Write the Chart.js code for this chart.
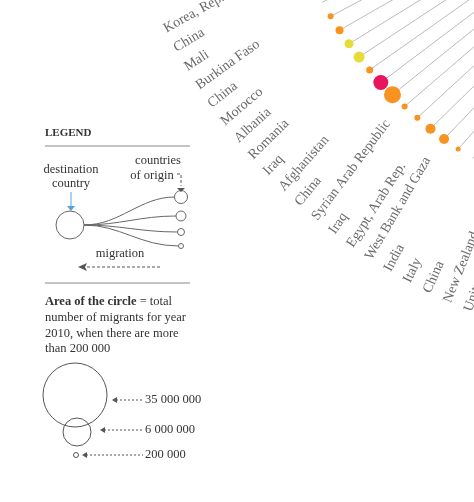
<!DOCTYPE html>
<html><head><meta charset="utf-8">
<script src="https://cdn.jsdelivr.net/npm/chart.js@4"></script>
<style>html,body{margin:0;padding:0;background:#fff}#c{display:block}</style>
</head><body><div style="width:474px;height:502px"><canvas id="c"></canvas></div>
<script>
const countries=["Korea, Rep.","China","Mali","Burkina Faso","China","Morocco","Albania","Romania","Iraq","Afghanistan","China","Syrian Arab Republic","Iraq","Egypt, Arab Rep.","West Bank and Gaza","India","Italy","China","New Zealand","United Kingdom"];
const dotSizes=[4,3,4,5,3,4,4.5,5.5,3.5,7.5,8.5,3,3,5,5,2.5,3,3,3,3];
const dotColors=["#e8145c","#f7931e","#f7931e","#e8145c","#f7931e","#f7931e","#e5dc3a","#e5dc3a","#f7931e","#e8145c","#f7931e","#f7931e","#f7931e","#f7931e","#f7931e","#f7931e","#f7931e","#f7931e","#f7931e","#f7931e"];
const legendSizes=["35 000 000","6 000 000","200 000"];

const C={x:684,y:-270};
const ang=i=>(150.8-2.17*i)*Math.PI/180;
const dang=i=>(150.2-2.17*i)*Math.PI/180;
const dotR=i=>439+2*i;
const labR=i=>598+1.1*i;
const pts=countries.map((c,i)=>({x:C.x+dotR(i)*Math.cos(dang(i)),y:C.y+dotR(i)*Math.sin(dang(i)),r:dotSizes[i]}));

const serif='"Liberation Serif","DejaVu Serif",serif';
const deco={id:'deco',
beforeDatasetsDraw(ch){const g=ch.ctx,xs=ch.scales.x,ys=ch.scales.y;g.save();
 g.strokeStyle='#aaa';g.lineWidth=0.8;
 pts.forEach(p=>{g.beginPath();g.moveTo(xs.getPixelForValue(p.x),ys.getPixelForValue(p.y));g.lineTo(xs.getPixelForValue(820),ys.getPixelForValue(-250));g.stroke();});
 g.restore();},
afterDatasetsDraw(ch){const g=ch.ctx,xs=ch.scales.x,ys=ch.scales.y;g.save();
 g.fillStyle='#6a6a6a';g.font='14px '+serif;g.textBaseline='middle';g.textAlign='left';
 countries.forEach((c,i)=>{const a=ang(i),R=labR(i);const px=xs.getPixelForValue(C.x+R*Math.cos(a)),py=ys.getPixelForValue(C.y+R*Math.sin(a));
  g.save();g.translate(px,py);g.rotate(a+Math.PI);g.fillText(c,0,0);g.restore();});
 // legend
 g.fillStyle='#333';g.font='bold 11px '+serif;g.fillText('LEGEND',45,133);
 g.strokeStyle='#888';g.lineWidth=1;
 [[45,146,190],[45,283,190]].forEach(l=>{g.beginPath();g.moveTo(l[0],l[1]);g.lineTo(l[2],l[1]);g.stroke();});
 g.fillStyle='#333';g.font='12.5px '+serif;g.textAlign='center';
 g.fillText('destination',71,170);g.fillText('country',71,184);
 g.fillText('countries',158,161);g.fillText('of origin',152,176);
 g.strokeStyle='#666';g.lineWidth=1;
 const og=[[181,197,6.5],[181,216,5],[181,232,3.5],[181,246,2.5]];
 og.forEach(o=>{g.beginPath();g.moveTo(84,225);g.bezierCurveTo(120,225,140,o[1],o[0]-o[2],o[1]);g.stroke();});
 g.beginPath();g.arc(70,225,14,0,7);g.fillStyle='#fff';g.fill();g.stroke();
 og.forEach(o=>{g.beginPath();g.arc(o[0],o[1],o[2],0,7);g.fillStyle='#fff';g.fill();g.stroke();});
 g.strokeStyle='#5aa0d8';g.beginPath();g.moveTo(71,192);g.lineTo(71,208);g.stroke();
 g.fillStyle='#5aa0d8';g.beginPath();g.moveTo(67,206);g.lineTo(75,206);g.lineTo(71,211);g.fill();
 g.strokeStyle='#555';g.setLineDash([3,2]);
 g.beginPath();g.moveTo(177,174);g.lineTo(181,174);g.lineTo(181,186);g.stroke();
 g.beginPath();g.moveTo(160,267);g.lineTo(84,267);g.stroke();
 g.setLineDash([]);g.fillStyle='#555';
 g.beginPath();g.moveTo(177,188);g.lineTo(185,188);g.lineTo(181,192);g.fill();
 g.beginPath();g.moveTo(78,267);g.lineTo(87,263);g.lineTo(85,267);g.lineTo(87,271);g.fill();
 g.fillStyle='#333';g.fillText('migration',120,254);
 g.textAlign='left';g.font='bold 12.5px '+serif;g.fillText('Area of the circle',45,302);
 const w=g.measureText('Area of the circle').width;g.font='12.5px '+serif;
 g.fillText(' = total',45+w,302);
 ['number of migrants for year','2010, when there are more','than 200 000'].forEach((t,k)=>g.fillText(t,45,318+k*15.5));
 g.strokeStyle='#555';
 [[75,395,32],[77,432,14],[76,455,2.5]].forEach(c=>{g.beginPath();g.arc(c[0],c[1],c[2],0,7);g.stroke();});
 g.setLineDash([2,2]);
 [[112,400],[100,430],[82,455]].forEach(l=>{g.beginPath();g.moveTo(l[0]+4,l[1]);g.lineTo(143,l[1]);g.stroke();});
 g.setLineDash([]);g.fillStyle='#555';
 [[112,400],[100,430],[82,455]].forEach(l=>{g.beginPath();g.moveTo(l[0],l[1]);g.lineTo(l[0]+5,l[1]-3);g.lineTo(l[0]+5,l[1]+3);g.fill();});
 g.fillStyle='#333';legendSizes.forEach((t,k)=>g.fillText(t,145,[400,430,455][k]));
 g.restore();}};

new Chart(document.getElementById('c'),{type:'bubble',
 data:{datasets:[{data:pts,backgroundColor:dotColors,borderWidth:0}]},
 options:{responsive:true,maintainAspectRatio:false,animation:false,layout:{padding:0},
  plugins:{legend:{display:false},tooltip:{enabled:false}},
  scales:{x:{type:'linear',min:0,max:474,display:false},y:{type:'linear',min:0,max:502,reverse:true,display:false}}},
 plugins:[deco]});
</script></body></html>
